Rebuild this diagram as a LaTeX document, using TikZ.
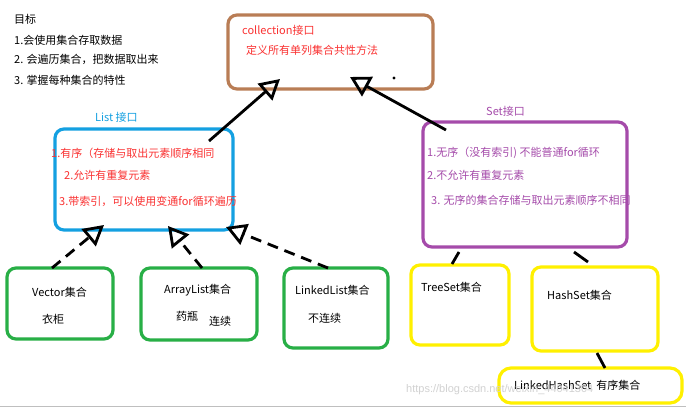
\documentclass[tikz,border=0pt]{standalone}
\usepackage{fontspec}
\setmainfont{Noto Sans CJK SC}
\usetikzlibrary{arrows.meta}
\definecolor{cbrown}{RGB}{185,125,85}
\definecolor{cblue}{RGB}{20,160,225}
\definecolor{cpurple}{RGB}{165,75,170}
\definecolor{cgreen}{RGB}{40,175,70}
\definecolor{cyel}{RGB}{255,240,0}
\definecolor{cred}{RGB}{250,50,50}
\definecolor{cpt}{RGB}{165,75,170}
\tikzset{
 box/.style={draw,line width=3.2pt,rounded corners=9pt},
 txt/.style={anchor=west,inner sep=0pt,font=\fontsize{11}{13}\selectfont},
 inh/.style={line width=2.8pt,-{Triangle[open,length=20pt,width=22pt,line width=2.8pt]}},
 dsh/.style={dash pattern=on 11pt off 7pt},
 lnk/.style={line width=2.8pt}
}
\begin{document}
\begin{tikzpicture}[x=1pt,y=-1pt]
\useasboundingbox[fill=white] (0,0) rectangle (686,408);
\draw[gray!50,line width=1pt] (0,406) -- (686,406);
% boxes
\draw[box,cbrown] (228,15) rectangle (433,89);
\draw[box,cblue] (55,129) rectangle (233,230);
\draw[box,cpurple] (423,122) rectangle (627,247);
\draw[box,cgreen] (7,268) rectangle (113,339);
\draw[box,cgreen] (141,268) rectangle (257,340);
\draw[box,cgreen] (284,268) rectangle (388,348);
\draw[box,cyel] (411,265) rectangle (509,345);
\draw[box,cyel] (532,267) rectangle (658,351);
\draw[box,cyel,rounded corners=12pt] (499,368) rectangle (682,403);
\coordinate (collA) at (280,79);
\coordinate (collB) at (350,77);
\coordinate (listT) at (209,141);
\coordinate (setT) at (446,130);
\coordinate (listB1) at (104,225);
\coordinate (listB2) at (168,226);
\coordinate (listB3) at (226,227);
\coordinate (vecT) at (52,268);
\coordinate (arrT) at (202,268);
\coordinate (lnkT) at (328,268);
% arrows
\draw[inh] (listT) -- (collA);
\draw[inh] (setT) -- (collB);
\draw[inh,dsh] (vecT) -- (listB1);
\draw[inh,dsh] (arrT) -- (listB2);
\draw[inh,dsh] (lnkT) -- (listB3);
\coordinate (ts1) at (452,264); \coordinate (ts2) at (459,252);
\draw[lnk] (ts1) -- (ts2);
\coordinate (hs1) at (588,262); \coordinate (hs2) at (574,252);
\draw[lnk] (hs1) -- (hs2);
\coordinate (lh1) at (605,368); \coordinate (lh2) at (597,353);
\draw[lnk] (lh1) -- (lh2);
\fill (394,78) circle (1.6pt);
% texts
\node[txt] (g0) at (14,19) {目标};
\node[txt] (g1) at (14,40) {1.会使用集合存取数据};
\node[txt] (g2) at (14,59) {2. 会遍历集合，把数据取出来};
\node[txt] (g3) at (14,80) {3. 掌握每种集合的特性};
\node[txt,cred] (c1) at (242,30) {collection接口};
\node[txt,cred] (c2) at (246,50) {定义所有单列集合共性方法};
\node[txt,cblue] (lt) at (95,117) {List 接口};
\node[txt,cred] (l1) at (51,153) {1.有序（存储与取出元素顺序相同};
\node[txt,cred] (l2) at (64,175) {2.允许有重复元素};
\node[txt,cred] (l3) at (59,201) {3.带索引，可以使用变通for循环遍历};
\node[txt,cpt] (st) at (486,111) {Set接口};
\node[txt,cpt] (s1) at (427,153) {1.无序（没有索引) 不能普通for循环};
\node[txt,cpt] (s2) at (427,175) {2.不允许有重复元素};
\node[txt,cpt] (s3) at (431,200) {3. 无序的集合存储与取出元素顺序不相同};
\node[txt] (v1) at (32,292) {Vector集合};
\node[txt] (v2) at (42,319) {衣柜};
\node[txt] (a1) at (164,290) {ArrayList集合};
\node[txt] (a2) at (176,316) {药瓶};
\node[txt] (a3) at (209,321) {连续};
\node[txt] (k1) at (295,290) {LinkedList集合};
\node[txt] (k2) at (308,318) {不连续};
\node[txt] (t1) at (421,287) {TreeSet集合};
\node[txt] (h1) at (547,295) {HashSet集合};
\node[txt] (lh) at (514,385) {LinkedHashSet\ \ 有序集合};
\node[txt,gray!35,font=\fontsize{11}{12}\selectfont\fontspec{Liberation Sans}] (wm) at (406,390) {https://blog.csdn.net/weixin\_44041304};
\end{tikzpicture}
\end{document}
